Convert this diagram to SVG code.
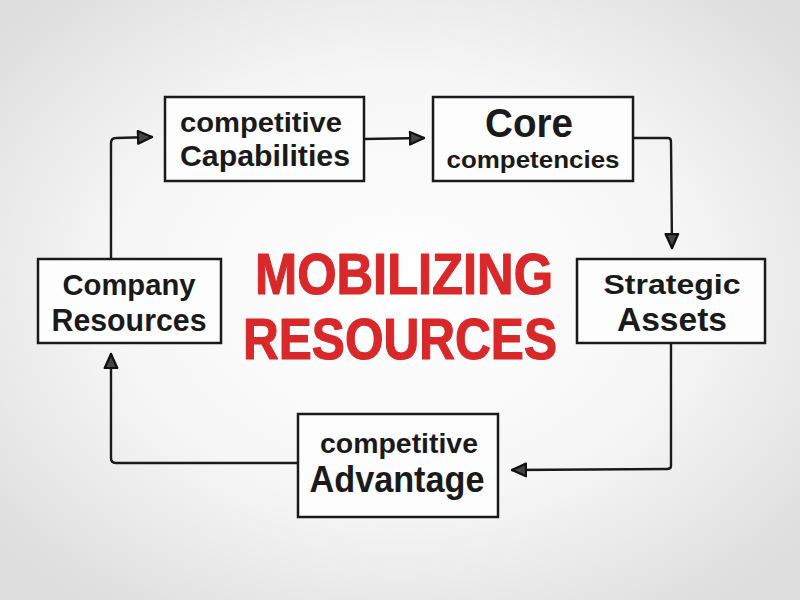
<svg xmlns="http://www.w3.org/2000/svg" width="800" height="600" viewBox="0 0 800 600">
<defs>
<radialGradient id="bg" cx="50%" cy="48%" r="65%">
<stop offset="0" stop-color="#ffffff"/>
<stop offset="0.55" stop-color="#f6f6f6"/>
<stop offset="1" stop-color="#dedede"/>
</radialGradient>
<marker id="arr" viewBox="0 0 12 12" refX="11" refY="6" markerWidth="7" markerHeight="7" orient="auto" markerUnits="strokeWidth">
<path d="M1,1.5 L11,6 L1,10.5 Z" fill="#444" stroke="#111" stroke-width="1.6" stroke-linejoin="round"/>
</marker>
<style>
.box{fill:#fdfdfd;stroke:#1a1a1a;stroke-width:2.5}
.t{font-family:"Liberation Sans","DejaVu Sans",sans-serif;font-weight:bold;fill:#1a1a1a;text-anchor:middle}
.c{fill:none;stroke:#1a1a1a;stroke-width:2.4;stroke-linejoin:round;stroke-linecap:round}
.title{font-family:"Liberation Sans","DejaVu Sans",sans-serif;font-weight:bold;fill:#d8282a;text-anchor:middle;stroke:#d8282a;stroke-width:1.2;stroke-linejoin:round}
</style>
</defs>
<rect width="800" height="600" fill="url(#bg)"/>
<g id="connectors">
<path class="c" d="M364,139 L424,138" marker-end="url(#arr)"/>
<path class="c" d="M633,138 L668,138 Q671,138 671,142 L672,248" marker-end="url(#arr)"/>
<path class="c" d="M671,343 L671,466 Q671,469 667,469 L512,470" marker-end="url(#arr)"/>
<path class="c" d="M298,463 L116,463 Q111,463 111,458 L111,354" marker-end="url(#arr)"/>
<path class="c" d="M111,259 L111,143 Q111,138 116,138 L152,137" marker-end="url(#arr)"/>
</g>
<g id="title">
<text class="title" x="404" y="294" font-size="58" textLength="298" lengthAdjust="spacingAndGlyphs">MOBILIZING</text>
<text class="title" x="400" y="359" font-size="58" textLength="314" lengthAdjust="spacingAndGlyphs">RESOURCES</text>
</g>
<g id="node-capabilities">
<rect class="box" x="165" y="97" width="199" height="84"/>
<text class="t" x="261" y="132" font-size="27" textLength="162" lengthAdjust="spacingAndGlyphs">competitive</text>
<text class="t" x="265" y="166" font-size="30" textLength="170" lengthAdjust="spacingAndGlyphs">Capabilities</text>
</g>
<g id="node-core">
<rect class="box" x="433" y="97" width="200" height="84"/>
<text class="t" x="529" y="137" font-size="40" textLength="88" lengthAdjust="spacingAndGlyphs">Core</text>
<text class="t" x="533" y="168" font-size="24" textLength="173" lengthAdjust="spacingAndGlyphs">competencies</text>
</g>
<g id="node-strategic">
<rect class="box" x="577" y="259" width="188" height="84"/>
<text class="t" x="672" y="294" font-size="28" textLength="137" lengthAdjust="spacingAndGlyphs">Strategic</text>
<text class="t" x="672" y="331" font-size="33" textLength="110" lengthAdjust="spacingAndGlyphs">Assets</text>
</g>
<g id="node-company">
<rect class="box" x="38" y="259" width="183" height="84"/>
<text class="t" x="129" y="295" font-size="30" textLength="133" lengthAdjust="spacingAndGlyphs">Company</text>
<text class="t" x="129" y="331" font-size="32" textLength="155" lengthAdjust="spacingAndGlyphs">Resources</text>
</g>
<g id="node-advantage">
<rect class="box" x="298" y="414" width="200" height="103"/>
<text class="t" x="399" y="453" font-size="28" textLength="158" lengthAdjust="spacingAndGlyphs">competitive</text>
<text class="t" x="397" y="492" font-size="36" textLength="175" lengthAdjust="spacingAndGlyphs">Advantage</text>
</g>
</svg>
